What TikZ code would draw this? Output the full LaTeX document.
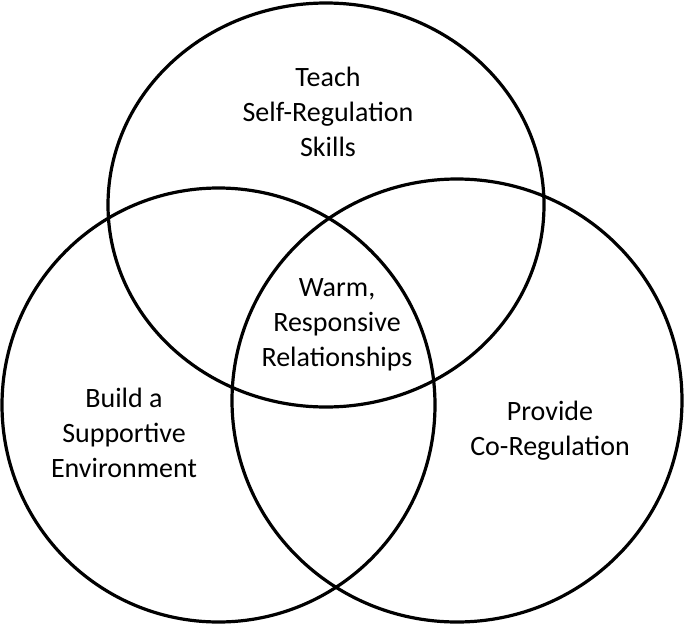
\documentclass[tikz,border=0pt]{standalone}
\usepackage{fontspec}
\setmainfont{Carlito}
\begin{document}
\begin{tikzpicture}[x=1pt,y=-1pt,
  ring/.style={draw=black,line width=3.2pt},
  label/.style={align=center,font=\fontsize{28}{35}\selectfont,inner sep=0pt}]
\useasboundingbox (0,0) rectangle (685,624);
\draw[ring] (326,205) ellipse [x radius=218,y radius=202];
\draw[ring] (218.5,405) ellipse [x radius=216.5,y radius=217];
\draw[ring] (457,400.5) ellipse [x radius=225,y radius=221.5];
\node[label] (top) at (328,112) {Teach\\Self-Regulation\\Skills};
\node[label] (mid) at (337,325) {Warm,\\Responsive\\Relationships};
\node[label] (left) at (124,433) {Build a\\Supportive\\Environment};
\node[label] (right) at (550,431) {Provide\\Co-Regulation};
\end{tikzpicture}
\end{document}
